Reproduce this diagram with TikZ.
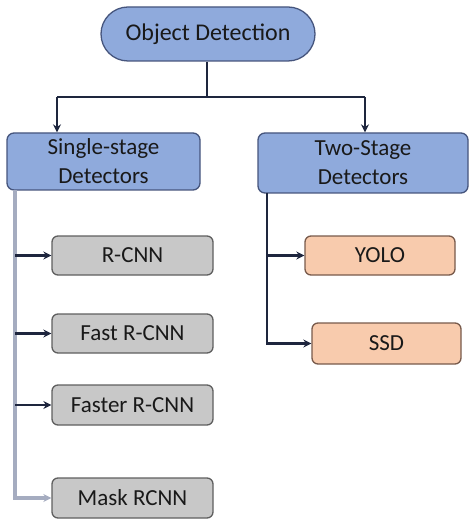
\documentclass[tikz,border=0pt]{standalone}
\usepackage{fontspec}
\setmainfont{Carlito}
\usetikzlibrary{arrows.meta,positioning}
\definecolor{headcolor}{RGB}{143,170,220}
\definecolor{headline}{RGB}{70,85,125}
\definecolor{greycolor}{RGB}{200,200,200}
\definecolor{greyline}{RGB}{95,95,95}
\definecolor{peachcolor}{RGB}{248,203,173}
\definecolor{peachline}{RGB}{120,90,75}
\definecolor{navycolor}{RGB}{30,38,62}
\definecolor{paleline}{RGB}{165,172,192}

\begin{document}
\begin{tikzpicture}[x=1pt, y=-1pt, every node/.style={font=\fontsize{23}{29}\selectfont, text=black!90, inner sep=0pt, align=center}]
    \tikzset{
      headbox/.style={draw=headline, fill=headcolor, line width=1.3pt, rounded corners=7pt},
      greybox/.style={draw=greyline, fill=greycolor, line width=1.3pt, rounded corners=6pt, minimum width=161pt, minimum height=39pt},
      peachbox/.style={draw=peachline, fill=peachcolor, line width=1.3pt, rounded corners=6pt, minimum width=150pt, minimum height=39pt},
      navyarrow/.style={draw=navycolor, line width=2.6pt, -{Stealth[length=8pt,width=8pt]}},
      navyline/.style={draw=navycolor, line width=2.6pt},
      palearrow/.style={draw=paleline, line width=3.4pt, -{Stealth[length=8pt,width=8pt]}}
    }
    \useasboundingbox (0,0) rectangle (474,526);
    % root
    \node[headbox, rounded corners=27pt, minimum width=214pt, minimum height=54pt, font=\fontsize{24}{29}\selectfont] (detect) at (208,34) {Object Detection};
    % two families
    \node[headbox, minimum width=193pt, minimum height=57pt] (single) at (103.5,161.5) {Single-stage\\Detectors};
    \node[headbox, minimum width=210pt, minimum height=60pt] (two) at (363,163) {Two-Stage\\Detectors};
    % left list
    \node[greybox] (rcnn) at (132.5,255.5) {R-CNN};
    \node[greybox] (fast) at (132.5,333.5) {Fast R-CNN};
    \node[greybox, minimum height=40pt] (faster) at (132.5,405) {Faster R-CNN};
    \node[greybox, minimum height=40pt] (mask) at (132.5,498) {Mask RCNN};
    % right list
    \node[peachbox] (yolo) at (380,255.5) {YOLO};
    \node[peachbox, minimum width=149pt, minimum height=41pt] (ssd) at (386.5,343.5) {SSD};
    % split from the root
    \coordinate (split) at (207,97);
    \coordinate (lsplit) at (57,97);
    \coordinate (rsplit) at (365,97);
    \draw[navyline] (detect.south -| split) -- (split);
    \draw[navyline] (lsplit) -- (rsplit);
    \draw[navyarrow] (lsplit) -- (lsplit |- single.north);
    \draw[navyarrow] (rsplit) -- (rsplit |- two.north);
    % single-stage branch
    \coordinate (ltrunk) at (15,190);
    \draw[palearrow] (ltrunk) -- (ltrunk |- mask.west) -- (mask.west);
    \foreach \leaf in {rcnn,fast,faster}
      \draw[navyarrow] (ltrunk |- \leaf.west) -- (\leaf.west);
    % two-stage branch
    \coordinate (rtrunk) at (267,193);
    \draw[navyarrow] (rtrunk) -- (rtrunk |- ssd.west) -- (ssd.west);
    \draw[navyarrow] (rtrunk |- yolo.west) -- (yolo.west);
\end{tikzpicture}
\end{document}
